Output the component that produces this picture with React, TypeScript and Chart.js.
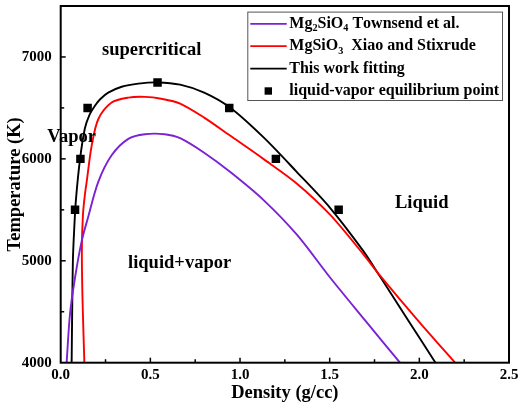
import React, { useEffect, useRef } from 'react';
import { Chart, registerables } from 'chart.js';

Chart.register(...registerables);

const SERIF = '"Liberation Serif", "Times New Roman", Times, serif';

// ---- series labels / colours ----
const seriesLabels = [
  'Mg₂SiO₄ Townsend et al.',
  'MgSiO₃  Xiao and Stixrude',
  'This work fitting',
  'liquid-vapor equilibrium point',
];
const seriesColors = ['#7b22d4', '#ff0000', '#000000', '#000000'];

// ---- Mg2SiO4 Townsend et al. (purple) ----
const townsendDensity = [0.033, 0.052, 0.080, 0.117, 0.150, 0.210, 0.284, 0.377, 0.470, 0.580, 0.666, 0.800, 0.944, 1.130, 1.316, 1.502, 1.700, 1.892];
const townsendTemp = [4000, 4480, 4836, 5193, 5410, 5776, 6035, 6196, 6242, 6242, 6203, 6060, 5873, 5598, 5258, 4836, 4410, 4000];

// ---- MgSiO3 Xiao and Stixrude (red) ----
const xiaoDensity = [0.132, 0.122, 0.118, 0.124, 0.135, 0.145, 0.173, 0.210, 0.284, 0.377, 0.470, 0.560, 0.666, 0.800, 0.944, 1.130, 1.316, 1.502, 1.688, 1.781, 2.000, 2.199];
const xiaoTemp = [4000, 4600, 5100, 5450, 5650, 5776, 6132, 6391, 6553, 6601, 6608, 6590, 6543, 6405, 6229, 6000, 5759, 5452, 5063, 4855, 4398, 4000];

// ---- This work fitting (black) ----
const fitDensity = [0.061, 0.064, 0.068, 0.075, 0.085, 0.108, 0.135, 0.160, 0.191, 0.220, 0.265, 0.340, 0.433, 0.540, 0.666, 0.800, 0.944, 1.130, 1.316, 1.502, 1.688, 1.781, 1.940, 2.090];
const fitTemp = [4000, 4500, 5000, 5300, 5600, 6000, 6300, 6430, 6521, 6585, 6650, 6708, 6738, 6750, 6728, 6650, 6504, 6213, 5873, 5520, 5095, 4845, 4410, 4000];

// ---- liquid-vapor equilibrium points (squares) ----
const eqDensity = [0.08, 0.11, 0.15, 0.54, 0.94, 1.20, 1.55];
const eqTemp = [5500, 6000, 6500, 6750, 6500, 6000, 5500];

// ---- region labels (anchored in data units) ----
const regionLabels = ['supercritical', 'Vapor', 'Liquid', 'liquid+vapor'];
const regionDensity = [0.507, 0.061, 2.013, 0.663];
const regionTemp = [7071, 6213, 5565, 4972];

// ---- axes ----
const xMin = 0;
const xMax = 2.5;
const xStep = 0.25;
const yMin = 4000;
const yMax = 7500;
const yStep = 500;
const xTitle = 'Density (g/cc)';
const yTitle = 'Temperature (K)';

const zip = (xs: number[], ys: number[]) => xs.map((x, i) => ({ x, y: ys[i] }));

const SUBS: Record<string, string> = { '₀': '0', '₁': '1', '₂': '2', '₃': '3', '₄': '4', '₅': '5', '₆': '6', '₇': '7', '₈': '8', '₉': '9' };

function drawRich(ctx: CanvasRenderingContext2D, text: string, x: number, y: number, size: number) {
  let cx = x;
  ctx.textAlign = 'left';
  ctx.textBaseline = 'middle';
  for (const ch of Array.from(text)) {
    if (SUBS[ch]) {
      const s = size * 0.64;
      ctx.font = `bold ${s}px ${SERIF}`;
      ctx.fillText(SUBS[ch], cx, y + size * 0.3);
      cx += ctx.measureText(SUBS[ch]).width;
    } else {
      ctx.font = `bold ${size}px ${SERIF}`;
      ctx.fillText(ch, cx, y);
      cx += ctx.measureText(ch).width;
    }
  }
}

const decorPlugin = {
  id: 'decor',
  afterDraw(chart: any) {
    const ctx: CanvasRenderingContext2D = chart.ctx;
    const ca = chart.chartArea;
    const xs = chart.scales.x;
    const ys = chart.scales.y;
    ctx.save();

    // inward ticks
    ctx.strokeStyle = '#000';
    ctx.lineWidth = 1.5;
    xs.ticks.forEach((t: any) => {
      const v = t.value;
      if (v <= xMin + 1e-9 || v >= xMax - 1e-9) return;
      const major = Math.abs(v * 2 - Math.round(v * 2)) < 1e-6;
      const px = xs.getPixelForValue(v);
      ctx.beginPath();
      ctx.moveTo(px, ca.bottom);
      ctx.lineTo(px, ca.bottom - (major ? 5 : 3.5));
      ctx.stroke();
    });
    ys.ticks.forEach((t: any) => {
      const v = t.value;
      if (v <= yMin || v >= yMax) return;
      const major = v % 1000 === 0;
      const py = ys.getPixelForValue(v);
      ctx.beginPath();
      ctx.moveTo(ca.left, py);
      ctx.lineTo(ca.left + (major ? 5 : 3.5), py);
      ctx.stroke();
    });

    // frame
    ctx.lineWidth = 2;
    ctx.strokeRect(ca.left, ca.top, ca.right - ca.left, ca.bottom - ca.top);

    // region labels
    ctx.fillStyle = '#000';
    ctx.font = `bold 18.5px ${SERIF}`;
    ctx.textAlign = 'center';
    ctx.textBaseline = 'middle';
    regionLabels.forEach((lab, i) => {
      ctx.fillText(lab, xs.getPixelForValue(regionDensity[i]), ys.getPixelForValue(regionTemp[i]));
    });

    // legend box
    const bRight = ca.right - 7;
    const bLeft = bRight - 254.7;
    const bTop = ca.top + 5.6;
    const bH = 88.4;
    ctx.fillStyle = '#fff';
    ctx.fillRect(bLeft, bTop, bRight - bLeft, bH);
    ctx.strokeStyle = '#555';
    ctx.lineWidth = 1;
    ctx.strokeRect(bLeft + 0.5, bTop + 0.5, bRight - bLeft, bH);
    chart.data.datasets.forEach((ds: any, i: number) => {
      const ry = bTop + 12.2 + i * 22.4;
      if (ds.showLine) {
        ctx.strokeStyle = ds.borderColor;
        ctx.lineWidth = 1.8;
        ctx.beginPath();
        ctx.moveTo(bLeft + 3, ry);
        ctx.lineTo(bLeft + 39.4, ry);
        ctx.stroke();
      } else {
        ctx.fillStyle = ds.backgroundColor;
        ctx.fillRect(bLeft + 21 - 3.7, ry - 3.7, 7.4, 7.4);
      }
      ctx.fillStyle = '#000';
      drawRich(ctx, ds.label, bLeft + 42, ry, 16);
    });
    ctx.restore();
  },
};

export default function App() {
  const ref = useRef<HTMLCanvasElement | null>(null);

  useEffect(() => {
    if (!ref.current) return;
    const tickFont = { family: SERIF, size: 15, weight: 'bold' as const };
    const titleFont = { family: SERIF, size: 18.5, weight: 'bold' as const };
    const lineDs = (i: number, xsArr: number[], ysArr: number[]) => ({
      label: seriesLabels[i],
      data: zip(xsArr, ysArr),
      showLine: true,
      borderColor: seriesColors[i],
      backgroundColor: seriesColors[i],
      borderWidth: 1.9,
      pointRadius: 0,
      pointHoverRadius: 0,
      tension: 0.3,
      fill: false,
    });
    const chart = new Chart(ref.current, {
      type: 'scatter',
      data: {
        datasets: [
          lineDs(0, townsendDensity, townsendTemp),
          lineDs(1, xiaoDensity, xiaoTemp),
          lineDs(2, fitDensity, fitTemp),
          {
            label: seriesLabels[3],
            data: zip(eqDensity, eqTemp),
            showLine: false,
            pointStyle: 'rect',
            pointRadius: 6,
            pointHoverRadius: 6,
            backgroundColor: seriesColors[3],
            borderColor: seriesColors[3],
            borderWidth: 0,
          },
        ] as any,
      },
      options: {
        animation: false,
        responsive: true,
        maintainAspectRatio: false,
        layout: { padding: { top: 2.7, right: 11, left: 0, bottom: 0 } },
        plugins: { legend: { display: false }, tooltip: { enabled: false } },
        scales: {
          x: {
            type: 'linear',
            min: xMin,
            max: xMax,
            ticks: {
              stepSize: xStep,
              autoSkip: false,
              maxRotation: 0,
              padding: 3,
              color: '#000',
              font: tickFont,
              callback: (v: any) => (Math.abs(v * 2 - Math.round(v * 2)) < 1e-6 ? Number(v).toFixed(1) : ''),
            },
            grid: { display: false, drawTicks: false },
            border: { display: false },
            title: { display: true, text: xTitle, color: '#000', font: titleFont, padding: { top: 0, bottom: 8 } },
            afterFit: (s: any) => { s.height = 49.3; s.paddingLeft = 0; s.paddingRight = 0; },
          },
          y: {
            type: 'linear',
            min: yMin,
            max: yMax,
            ticks: {
              stepSize: yStep,
              autoSkip: false,
              padding: 9,
              color: '#000',
              font: tickFont,
              callback: (v: any) => (Number(v) % 1000 === 0 ? String(v) : ''),
            },
            grid: { display: false, drawTicks: false },
            border: { display: false },
            title: { display: true, text: yTitle, color: '#000', font: titleFont, padding: { top: 4, bottom: 0 } },
            afterFit: (s: any) => { s.width = 60.7; s.paddingTop = 0; s.paddingBottom = 0; },
          },
        },
      } as any,
      plugins: [decorPlugin],
    });
    return () => chart.destroy();
  }, []);

  return (
    <div style={{ position: 'absolute', left: 0, top: 0, width: 520, height: 412, background: '#fff' }}>
      <canvas ref={ref} />
    </div>
  );
}
